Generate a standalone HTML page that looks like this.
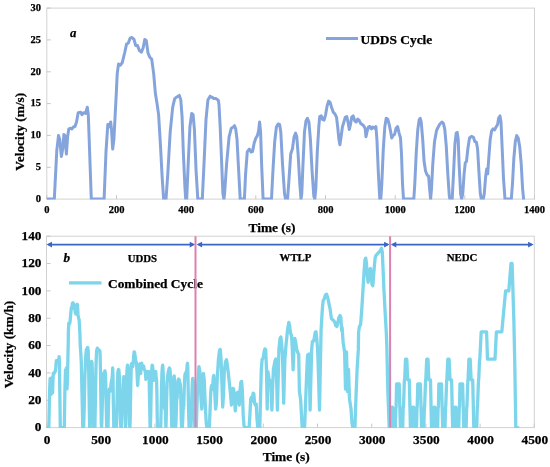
<!DOCTYPE html>
<html><head><meta charset="utf-8"><title>Drive cycles</title>
<style>
html,body{margin:0;padding:0;background:#fff;}
body{width:550px;height:467px;overflow:hidden;}
svg{display:block;}
text{font-family:"Liberation Serif","Times New Roman",serif;font-weight:bold;fill:#000;stroke:#000;stroke-width:0.25px;}
.ta{font-size:10.5px;}
.tb{font-size:13.3px;}
.ax{font-size:13.4px;}
.lb{font-size:10.8px;}
</style></head><body>
<svg width="550" height="467" viewBox="0 0 550 467">
<rect x="0" y="0" width="550" height="467" fill="#fff"/>

<defs><clipPath id="ca"><rect x="46.8" y="8.1" width="487.7" height="191.4"/></clipPath><clipPath id="cb"><rect x="46.5" y="236.2" width="487.79999999999995" height="191.80000000000004"/></clipPath></defs>
<rect x="46.8" y="8.1" width="487.7" height="191.0" fill="none" stroke="#d2d2d2" stroke-width="1"/>
<path d="M46.8,199.1h4M46.8,167.3h4M46.8,135.4h4M46.8,103.6h4M46.8,71.8h4M46.8,39.9h4M46.8,8.1h4M46.8,199.1v-4M116.5,199.1v-4M186.1,199.1v-4M255.8,199.1v-4M325.5,199.1v-4M395.2,199.1v-4M464.8,199.1v-4M534.5,199.1v-4" stroke="#c8c8c8" stroke-width="1" fill="none"/>
<text class="ta" x="41" y="201.9" text-anchor="end">0</text>
<text class="ta" x="41" y="170.1" text-anchor="end">5</text>
<text class="ta" x="41" y="138.2" text-anchor="end">10</text>
<text class="ta" x="41" y="106.4" text-anchor="end">15</text>
<text class="ta" x="41" y="74.6" text-anchor="end">20</text>
<text class="ta" x="41" y="42.7" text-anchor="end">25</text>
<text class="ta" x="41" y="10.9" text-anchor="end">30</text>
<text class="ta" x="46.8" y="213" text-anchor="middle">0</text>
<text class="ta" x="116.5" y="213" text-anchor="middle">200</text>
<text class="ta" x="186.1" y="213" text-anchor="middle">400</text>
<text class="ta" x="255.8" y="213" text-anchor="middle">600</text>
<text class="ta" x="325.5" y="213" text-anchor="middle">800</text>
<text class="ta" x="395.2" y="213" text-anchor="middle">1000</text>
<text class="ta" x="464.8" y="213" text-anchor="middle">1200</text>
<text class="ta" x="534.5" y="213" text-anchor="middle">1400</text>
<text class="ax" x="248.5" y="232">Time (s)</text>
<text class="ax" transform="translate(23.6,131.7) rotate(-90)" text-anchor="middle">Velocity (m/s)</text>
<text x="70" y="37" style="font-style:italic;font-size:12.8px">a</text>
<path clip-path="url(#ca)" d="M46.9,199.1 L54.3,199.1 L56.8,150.4 L58.5,135.6 L59.7,139.3 L61.4,156.5 L62.7,149.1 L63.9,134.4 L64.9,135.6 L66.4,154.1 L67.6,136.8 L68.8,128.9 L70.8,128.2 L72.0,128.9 L73.3,127.0 L75.0,126.5 L76.5,122.0 L78.2,112.7 L80.7,112.2 L81.9,114.6 L83.9,112.7 L85.6,113.4 L87.3,107.2 L88.3,114.6 L91.3,199.1 L104.1,199.1 L106.0,151.6 L107.8,124.5 L109.0,127.0 L110.7,122.0 L111.5,129.4 L112.7,149.1 L113.9,139.3 L116.4,91.2 L117.2,73.9 L118.5,64.1 L120.2,65.3 L122.2,62.8 L124.6,53.0 L126.6,43.9 L128.3,43.1 L130.1,38.2 L132.0,37.5 L134.0,39.4 L135.7,45.6 L137.5,45.6 L139.4,50.5 L141.4,52.2 L143.1,48.0 L144.8,39.4 L146.3,40.7 L148.0,53.0 L149.8,57.2 L151.7,59.1 L153.7,73.9 L155.4,93.6 L157.2,104.8 L158.6,114.6 L160.4,144.2 L162.1,176.2 L163.6,199.1 L166.0,199.1 L167.8,173.8 L170.2,131.9 L172.7,107.2 L174.7,98.6 L176.9,96.9 L179.3,95.4 L180.8,99.9 L182.1,117.1 L183.3,151.6 L185.0,188.6 L185.7,199.1 L186.7,199.1 L188.2,163.9 L189.9,127.0 L191.7,113.4 L193.1,114.6 L194.4,129.4 L196.1,171.3 L197.8,199.1 L202.3,199.1 L204.0,163.9 L206.0,119.6 L207.9,99.9 L210.1,96.2 L212.1,97.4 L214.1,98.6 L215.8,98.6 L218.3,100.3 L219.0,104.8 L220.2,127.0 L221.7,163.9 L222.9,193.5 L223.9,199.1 L224.6,193.5 L226.6,163.9 L229.1,136.8 L231.3,128.2 L233.3,127.0 L234.5,125.7 L235.7,128.9 L237.0,139.3 L238.7,171.3 L240.2,199.1 L244.4,199.1 L245.6,173.8 L247.3,151.6 L249.3,149.1 L251.0,152.1 L252.5,151.6 L254.2,143.0 L255.9,138.0 L257.4,135.6 L258.6,130.7 L259.6,122.0 L260.6,131.9 L261.6,163.9 L263.1,199.1 L271.5,199.1 L272.9,171.3 L274.7,141.7 L276.4,127.0 L278.1,124.0 L279.6,124.5 L280.8,131.9 L282.5,163.9 L284.5,193.5 L285.5,199.1 L287.5,199.1 L288.7,183.6 L290.7,154.1 L292.4,149.1 L294.1,136.8 L295.6,133.1 L296.8,136.8 L298.1,154.1 L299.8,183.6 L301.0,199.1 L301.8,193.5 L303.0,163.9 L304.5,131.9 L306.0,120.8 L307.4,118.3 L308.9,122.0 L310.4,139.3 L312.1,171.3 L313.8,196.0 L314.8,199.1 L315.8,188.6 L317.3,151.6 L318.8,127.0 L319.7,116.6 L321.2,115.9 L322.7,119.6 L324.1,120.1 L325.6,114.6 L327.1,106.0 L328.6,101.1 L330.1,102.3 L331.5,107.2 L333.3,112.2 L335.0,114.1 L336.5,117.1 L337.7,127.0 L338.9,139.3 L339.9,144.7 L341.1,136.8 L342.4,127.0 L343.9,122.0 L345.3,117.1 L346.8,116.6 L348.0,122.0 L349.3,129.4 L350.5,124.5 L351.7,117.1 L353.2,115.9 L354.7,120.8 L356.2,122.0 L357.7,119.1 L359.1,120.1 L360.6,123.3 L362.1,124.5 L363.6,125.7 L365.1,128.2 L366.0,136.8 L367.0,131.9 L368.5,127.0 L370.0,126.5 L371.5,128.9 L372.9,127.0 L374.4,128.2 L375.9,126.5 L376.9,139.3 L378.4,173.8 L379.8,199.1 L380.8,199.1 L381.8,183.6 L383.3,149.1 L384.8,127.0 L386.2,118.3 L387.7,119.1 L389.2,124.5 L390.7,131.9 L391.7,138.0 L393.1,135.6 L394.6,134.4 L396.1,128.2 L397.6,126.5 L399.1,133.1 L400.5,138.0 L401.5,154.1 L402.5,183.6 L403.5,199.1 L413.8,199.1 L414.8,183.6 L416.3,151.6 L417.8,129.4 L419.2,119.6 L420.2,118.3 L421.2,122.0 L422.7,139.3 L424.1,161.5 L425.6,171.3 L427.1,175.0 L428.6,176.2 L429.6,188.6 L430.6,199.1 L431.5,188.6 L432.8,163.9 L434.5,141.7 L436.5,130.7 L438.2,127.0 L439.9,124.0 L441.9,122.0 L443.4,123.3 L444.8,129.4 L446.3,146.7 L447.8,173.8 L449.3,196.0 L450.0,199.1 L452.2,199.1 L453.5,173.8 L454.9,144.2 L456.2,133.1 L457.2,132.4 L458.2,139.3 L459.1,163.9 L460.6,193.5 L461.6,199.1 L462.8,193.5 L464.1,173.8 L465.3,162.7 L466.5,161.5 L467.8,149.1 L469.5,138.0 L471.5,136.3 L473.4,137.3 L474.9,141.7 L476.4,142.2 L477.6,149.1 L478.9,171.3 L480.3,193.5 L481.3,199.1 L483.3,199.1 L484.3,193.5 L485.7,176.2 L486.7,168.9 L487.7,173.8 L488.7,159.0 L490.2,139.3 L491.7,130.7 L493.1,128.9 L494.6,129.9 L496.1,127.0 L497.6,124.5 L498.6,118.3 L500.0,115.9 L501.0,122.0 L502.0,144.2 L503.5,178.7 L505.0,199.1 L505.2,199.1 L511.3,199.1 L512.5,183.6 L513.8,159.0 L515.3,141.7 L516.7,135.6 L518.2,138.0 L519.7,146.7 L521.2,163.9 L522.6,188.6 L523.6,199.1" fill="none" stroke="#86a4dc" stroke-width="3" stroke-linejoin="round" stroke-linecap="round"/>
<path d="M326,38.5H358" stroke="#86a4dc" stroke-width="3"/>
<text x="360.5" y="43.5" style="font-size:13.4px">UDDS Cycle</text>
<rect x="46.5" y="236.2" width="487.79999999999995" height="191.40000000000003" fill="none" stroke="#d2d2d2" stroke-width="1"/>
<path d="M46.5,427.6h4M46.5,400.3h4M46.5,372.9h4M46.5,345.6h4M46.5,318.2h4M46.5,290.9h4M46.5,263.5h4M46.5,236.2h4M46.5,427.6v-4M100.7,427.6v-4M154.9,427.6v-4M209.1,427.6v-4M263.3,427.6v-4M317.5,427.6v-4M371.7,427.6v-4M425.9,427.6v-4M480.1,427.6v-4M534.3,427.6v-4" stroke="#c8c8c8" stroke-width="1" fill="none"/>
<text class="tb" x="41.5" y="431.4" text-anchor="end">0</text>
<text class="tb" x="41.5" y="404.1" text-anchor="end">20</text>
<text class="tb" x="41.5" y="376.7" text-anchor="end">40</text>
<text class="tb" x="41.5" y="349.4" text-anchor="end">60</text>
<text class="tb" x="41.5" y="322.0" text-anchor="end">80</text>
<text class="tb" x="41.5" y="294.7" text-anchor="end">100</text>
<text class="tb" x="41.5" y="267.3" text-anchor="end">120</text>
<text class="tb" x="41.5" y="240.0" text-anchor="end">140</text>
<text class="tb" x="47.0" y="443.5" text-anchor="middle">0</text>
<text class="tb" x="101.2" y="443.5" text-anchor="middle">500</text>
<text class="tb" x="155.4" y="443.5" text-anchor="middle">1000</text>
<text class="tb" x="209.6" y="443.5" text-anchor="middle">1500</text>
<text class="tb" x="263.8" y="443.5" text-anchor="middle">2000</text>
<text class="tb" x="318.0" y="443.5" text-anchor="middle">2500</text>
<text class="tb" x="372.2" y="443.5" text-anchor="middle">3000</text>
<text class="tb" x="426.4" y="443.5" text-anchor="middle">3500</text>
<text class="tb" x="480.6" y="443.5" text-anchor="middle">4000</text>
<text class="tb" x="534.8" y="443.5" text-anchor="middle">4500</text>
<text class="ax" x="262.7" y="461">Time (s)</text>
<text class="ax" transform="translate(12.8,344.5) rotate(-90)" text-anchor="middle">Velocity (km/h)</text>
<text x="63.5" y="261.5" style="font-style:italic;font-size:13.2px">b</text>
<path clip-path="url(#cb)" d="M46.5,427.6 L48.8,427.6 L49.6,390.0 L50.1,378.5 L50.5,381.4 L51.0,394.7 L51.4,388.9 L51.8,377.6 L52.1,378.5 L52.6,392.8 L53.0,379.4 L53.3,373.3 L54.0,372.8 L54.3,373.3 L54.7,371.9 L55.3,371.5 L55.7,368.0 L56.3,360.8 L57.0,360.4 L57.4,362.3 L58.0,360.8 L58.6,361.4 L59.1,356.6 L59.4,362.3 L60.3,427.6 L64.3,427.6 L64.9,390.9 L65.5,369.9 L65.9,371.9 L66.4,368.0 L66.6,373.7 L67.0,388.9 L67.4,381.4 L68.2,344.2 L68.4,330.8 L68.8,323.2 L69.3,324.2 L70.0,322.2 L70.7,314.7 L71.3,307.6 L71.9,307.0 L72.4,303.2 L73.0,302.7 L73.6,304.1 L74.2,308.9 L74.7,308.9 L75.3,312.7 L75.9,314.0 L76.5,310.8 L77.0,304.1 L77.5,305.1 L78.0,314.7 L78.6,317.9 L79.1,319.4 L79.8,330.8 L80.3,346.0 L80.9,354.7 L81.3,362.3 L81.8,385.2 L82.4,409.9 L82.8,427.6 L83.6,427.6 L84.2,408.0 L84.9,375.7 L85.7,356.6 L86.3,349.9 L87.0,348.6 L87.7,347.4 L88.2,350.9 L88.6,364.2 L89.0,390.9 L89.5,419.5 L89.7,427.6 L90.0,427.6 L90.5,400.4 L91.0,371.9 L91.6,361.4 L92.0,362.3 L92.4,373.7 L93.0,406.1 L93.5,427.6 L94.9,427.6 L95.4,400.4 L96.0,366.1 L96.6,350.9 L97.3,348.1 L97.9,349.0 L98.6,349.9 L99.1,349.9 L99.9,351.2 L100.1,354.7 L100.5,371.9 L100.9,400.4 L101.3,423.3 L101.6,427.6 L101.8,423.3 L102.4,400.4 L103.2,379.4 L103.9,372.8 L104.5,371.9 L104.9,370.9 L105.3,373.3 L105.7,381.4 L106.2,406.1 L106.7,427.6 L108.0,427.6 L108.4,408.0 L108.9,390.9 L109.5,388.9 L110.0,391.3 L110.5,390.9 L111.0,384.2 L111.6,380.4 L112.0,378.5 L112.4,374.7 L112.7,368.0 L113.0,375.7 L113.3,400.4 L113.8,427.6 L116.4,427.6 L116.9,406.1 L117.4,383.2 L117.9,371.9 L118.5,369.5 L118.9,369.9 L119.3,375.7 L119.8,400.4 L120.5,423.3 L120.8,427.6 L121.4,427.6 L121.8,415.6 L122.4,392.8 L122.9,388.9 L123.5,379.4 L123.9,376.6 L124.3,379.4 L124.7,392.8 L125.2,415.6 L125.6,427.6 L125.8,423.3 L126.2,400.4 L126.7,375.7 L127.2,367.1 L127.6,365.1 L128.1,368.0 L128.5,381.4 L129.1,406.1 L129.6,425.2 L129.9,427.6 L130.2,419.5 L130.7,390.9 L131.1,371.9 L131.4,363.8 L131.9,363.3 L132.4,366.1 L132.8,366.5 L133.3,362.3 L133.7,355.6 L134.2,351.8 L134.7,352.8 L135.1,356.6 L135.7,360.4 L136.2,361.9 L136.6,364.2 L137.0,371.9 L137.4,381.4 L137.7,385.5 L138.1,379.4 L138.5,371.9 L139.0,368.0 L139.4,364.2 L139.9,363.8 L140.2,368.0 L140.6,373.7 L141.0,369.9 L141.4,364.2 L141.8,363.3 L142.3,367.1 L142.8,368.0 L143.2,365.8 L143.7,366.5 L144.1,369.0 L144.6,369.9 L145.1,370.9 L145.5,372.8 L145.8,379.4 L146.1,375.7 L146.6,371.9 L147.1,371.5 L147.5,373.3 L148.0,371.9 L148.4,372.8 L148.9,371.5 L149.2,381.4 L149.7,408.0 L150.1,427.6 L150.4,427.6 L150.7,415.6 L151.2,388.9 L151.7,371.9 L152.1,365.1 L152.6,365.8 L153.0,369.9 L153.5,375.7 L153.8,380.4 L154.3,378.5 L154.7,377.6 L155.2,372.8 L155.7,371.5 L156.1,376.6 L156.6,380.4 L156.9,392.8 L157.2,415.6 L157.5,427.6 L160.7,427.6 L161.0,415.6 L161.5,390.9 L161.9,373.7 L162.4,366.1 L162.7,365.1 L163.0,368.0 L163.5,381.4 L163.9,398.5 L164.4,406.1 L164.8,409.0 L165.3,409.9 L165.6,419.5 L165.9,427.6 L166.2,419.5 L166.6,400.4 L167.1,383.2 L167.8,374.7 L168.3,371.9 L168.8,369.5 L169.4,368.0 L169.9,369.0 L170.3,373.7 L170.8,387.1 L171.3,408.0 L171.7,425.2 L172.0,427.6 L172.7,427.6 L173.1,408.0 L173.5,385.2 L173.9,376.6 L174.2,376.0 L174.5,381.4 L174.8,400.4 L175.3,423.3 L175.6,427.6 L175.9,423.3 L176.4,408.0 L176.7,399.5 L177.1,398.5 L177.5,388.9 L178.0,380.4 L178.7,379.1 L179.2,379.8 L179.7,383.2 L180.2,383.6 L180.6,388.9 L181.0,406.1 L181.4,423.3 L181.7,427.6 L182.3,427.6 L182.6,423.3 L183.1,409.9 L183.4,404.3 L183.7,408.0 L184.0,396.6 L184.5,381.4 L184.9,374.7 L185.4,373.3 L185.8,374.1 L186.3,371.9 L186.8,369.9 L187.1,365.1 L187.5,363.3 L187.8,368.0 L188.1,385.2 L188.6,411.8 L189.1,427.6 L189.1,427.6 L191.0,427.6 L191.4,415.6 L191.8,396.6 L192.3,383.2 L192.7,378.5 L193.2,380.4 L193.7,387.1 L194.1,400.4 L194.6,419.5 L194.9,427.6 L196.3,427.6 L197.5,389.3 L198.9,366.6 L199.9,371.5 L201.0,399.1 L201.8,409.0 L202.6,389.3 L203.4,373.5 L204.2,379.4 L205.0,399.1 L206.2,422.8 L206.9,427.6 L209.3,427.6 L210.1,409.0 L210.9,389.3 L211.7,385.3 L212.5,389.3 L213.3,377.4 L213.8,375.5 L214.6,389.3 L215.6,409.0 L216.4,403.1 L217.2,379.4 L218.4,359.7 L219.6,349.9 L220.3,349.5 L221.1,359.7 L221.9,383.3 L222.7,407.0 L223.5,395.2 L224.3,371.5 L225.5,361.7 L226.5,359.7 L227.4,365.6 L228.6,375.5 L229.8,387.3 L230.6,395.2 L231.4,405.0 L232.2,393.2 L233.0,388.3 L233.7,389.3 L234.5,399.1 L235.3,410.9 L236.1,399.1 L236.9,393.2 L237.7,392.2 L238.5,397.1 L239.3,405.0 L240.0,391.2 L240.8,382.4 L241.6,381.4 L242.4,391.2 L243.2,414.9 L244.0,425.7 L244.8,427.6 L249.1,427.6 L249.9,414.9 L250.7,399.1 L251.5,397.1 L252.3,401.1 L253.1,393.2 L253.8,393.6 L254.6,403.1 L255.4,405.0 L256.2,404.0 L257.0,418.8 L257.8,427.6 L259.8,427.6 L260.5,399.1 L261.3,369.6 L262.1,359.7 L263.3,357.7 L264.1,351.8 L264.9,348.9 L265.7,349.9 L266.5,369.6 L267.2,409.0 L267.9,371.6 L269.1,379.5 L270.7,381.4 L271.9,410.0 L272.6,388.5 L273.4,369.6 L275.0,360.9 L275.8,359.0 L276.6,378.7 L277.4,410.0 L278.2,378.7 L278.9,349.1 L280.1,338.3 L280.9,336.9 L281.7,345.2 L282.5,355.0 L283.1,378.7 L283.7,403.1 L284.3,378.7 L284.9,359.0 L286.0,345.2 L287.6,329.4 L288.8,322.5 L289.6,325.5 L290.4,332.4 L291.6,336.3 L292.3,349.1 L293.1,369.8 L293.9,349.1 L294.7,338.3 L295.5,341.2 L296.7,349.1 L297.9,353.1 L298.7,354.0 L299.4,391.3 L300.6,399.2 L302.2,427.6 L304.6,427.6 L305.7,399.2 L306.5,378.7 L307.3,359.8 L307.7,355.0 L308.9,354.0 L309.5,378.7 L310.1,410.0 L310.9,378.7 L311.7,349.1 L312.4,341.6 L313.6,341.2 L314.4,337.3 L315.2,332.4 L316.0,331.8 L316.8,339.3 L317.6,349.1 L318.4,372.8 L319.5,410.0 L320.3,368.8 L321.1,329.4 L322.3,309.7 L323.1,300.8 L324.3,298.9 L325.4,294.9 L326.6,294.3 L327.8,297.9 L329.0,303.8 L330.2,309.7 L331.4,318.6 L332.5,319.6 L333.7,320.5 L334.9,322.5 L335.7,325.5 L336.9,326.5 L338.1,321.5 L338.8,317.6 L340.0,315.6 L340.8,317.0 L341.7,330.6 L342.1,327.4 L343.1,342.2 L344.6,352.0 L345.5,389.0 L346.5,352.0 L347.5,391.5 L348.5,369.3 L349.5,398.9 L351.0,408.7 L352.0,423.5 L352.9,427.6 L354.9,427.6 L355.9,399.1 L357.1,369.6 L358.3,349.9 L358.6,332.0 L359.4,326.7 L360.6,324.7 L361.8,309.0 L363.0,289.3 L364.2,269.6 L365.0,259.7 L365.7,258.1 L366.5,263.6 L367.3,275.5 L368.1,282.4 L368.9,275.5 L369.7,269.6 L370.5,268.6 L371.3,275.5 L372.0,284.3 L372.8,285.7 L373.6,275.5 L374.4,265.6 L375.2,257.7 L376.0,255.4 L377.2,254.2 L378.3,252.8 L379.5,251.8 L380.7,249.9 L381.5,248.3 L382.3,252.2 L383.1,269.6 L383.9,289.3 L385.0,310.0 L386.2,330.6 L386.8,344.9 L387.8,389.3 L389.2,427.6 L390.0,427.6 L391.2,427.6 L391.6,407.1 L392.5,407.1 L393.1,427.6 L395.3,427.6 L395.9,407.1 L396.1,407.1 L396.6,383.9 L399.2,383.9 L400.4,427.6 L402.7,427.6 L403.2,407.1 L403.5,407.1 L404.4,379.8 L404.7,379.8 L405.5,359.2 L406.8,359.2 L407.7,379.8 L409.1,379.8 L409.3,379.8 L410.1,413.9 L410.4,427.6 L411.2,427.6 L411.2,427.6 L412.3,427.6 L412.8,407.1 L413.7,407.1 L414.2,427.6 L416.5,427.6 L417.0,407.1 L417.2,407.1 L417.8,383.9 L420.4,383.9 L421.6,427.6 L423.8,427.6 L424.4,407.1 L424.6,407.1 L425.6,379.8 L425.8,379.8 L426.7,359.2 L428.0,359.2 L428.8,379.8 L430.2,379.8 L430.5,379.8 L431.2,413.9 L431.5,427.6 L432.3,427.6 L432.3,427.6 L433.5,427.6 L433.9,407.1 L434.8,407.1 L435.3,427.6 L437.6,427.6 L438.1,407.1 L438.4,407.1 L438.9,383.9 L441.5,383.9 L442.7,427.6 L445.0,427.6 L445.5,407.1 L445.7,407.1 L446.7,379.8 L446.9,379.8 L447.8,359.2 L449.1,359.2 L450.0,379.8 L451.4,379.8 L451.6,379.8 L452.3,413.9 L452.7,427.6 L453.4,427.6 L453.4,427.6 L454.6,427.6 L455.1,407.1 L455.9,407.1 L456.5,427.6 L458.7,427.6 L459.3,407.1 L459.5,407.1 L460.0,383.9 L462.6,383.9 L463.8,427.6 L466.1,427.6 L466.7,407.1 L466.9,407.1 L467.9,379.8 L468.1,379.8 L468.9,359.2 L470.2,359.2 L471.1,379.8 L472.5,379.8 L472.7,379.8 L473.5,413.9 L473.8,427.6 L474.6,427.6 L474.6,427.6 L476.7,427.6 L477.3,407.1 L477.5,407.1 L478.5,379.8 L478.7,379.8 L479.6,359.2 L479.8,359.2 L481.2,331.9 L486.6,331.9 L487.5,359.2 L495.0,359.2 L496.4,331.9 L501.8,331.9 L505.6,290.9 L508.8,290.9 L511.0,263.5 L512.1,263.5 L513.8,318.2 L514.7,359.2 L515.8,427.6 L517.9,427.6" fill="none" stroke="#7cd5eb" stroke-width="3.3" stroke-linejoin="round" stroke-linecap="round"/>
<path d="M69,282.8H101.5" stroke="#7cd5eb" stroke-width="3.2"/>
<text x="108" y="288" style="font-size:13.4px">Combined Cycle</text>
<path d="M48.5,244.6H193.2" stroke="#3b67c4" stroke-width="1.8" fill="none"/><path d="M46.5,244.6l5.5,-2.8v5.6z M195.2,244.6l-5.5,-2.8v5.6z" fill="#3b67c4"/>
<path d="M198.6,244.6H387.6" stroke="#3b67c4" stroke-width="1.8" fill="none"/><path d="M196.6,244.6l5.5,-2.8v5.6z M389.6,244.6l-5.5,-2.8v5.6z" fill="#3b67c4"/>
<path d="M392.8,244.6H531.6" stroke="#3b67c4" stroke-width="1.8" fill="none"/><path d="M390.8,244.6l5.5,-2.8v5.6z M533.6,244.6l-5.5,-2.8v5.6z" fill="#3b67c4"/>
<path d="M195.5,236.2V427.6 M390.1,236.2V427.6" stroke="#dc82b0" stroke-width="2" fill="none"/>
<text class="lb" x="142.4" y="261.6" text-anchor="middle">UDDS</text>
<text class="lb" x="295.5" y="261.3" text-anchor="middle">WTLP</text>
<text class="lb" x="462" y="261.2" text-anchor="middle">NEDC</text>
</svg></body></html>
